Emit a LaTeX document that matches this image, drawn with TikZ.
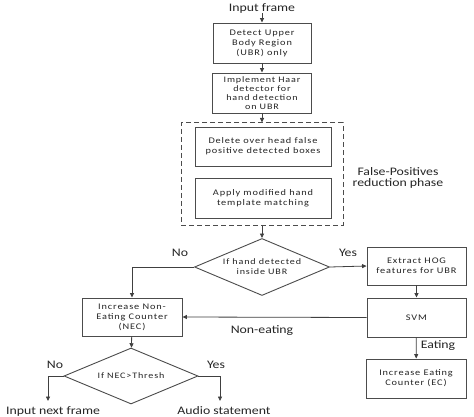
\documentclass[tikz,border=0pt]{standalone}
\usepackage{fontspec}
\setmainfont{Carlito}
\newfontfamily\boxfont{Carlito}[FakeStretch=1.2,LetterSpace=10]
\newfontfamily\labfont{Carlito}[FakeStretch=1.2]
\usetikzlibrary{shapes.geometric,arrows.meta}
\begin{document}
\begin{tikzpicture}[x=1pt,y=-1pt,
  every node/.style={text=black!85},
  procbox/.style={draw=black!70,line width=0.9pt,rectangle,inner sep=0pt,align=center,
    font=\boxfont\fontsize{8.6}{10}\selectfont},
  decbox/.style={draw=black!70,line width=0.9pt,diamond,inner sep=0pt,align=center,
    font=\boxfont\fontsize{8.4}{10}\selectfont},
  lab/.style={inner sep=0pt,align=center,font=\labfont\fontsize{11.5}{11}\selectfont},
  conn/.style={draw=black!75,line width=0.8pt,-{Triangle[length=4.5pt,width=4pt]}},
  phase/.style={draw=black!70,line width=1pt,dash pattern=on 5pt off 3pt,rectangle,inner sep=0pt}
]
\useasboundingbox[fill=white] (0,0) rectangle (474,417);

\node[lab] (inp) at (262,8) {Input frame};
\node[procbox,minimum width=98pt,minimum height=40pt] (b1) at (262,43) {Detect Upper\\Body Region\\(UBR) only};
\node[procbox,minimum width=99pt,minimum height=40pt,font=\boxfont\fontsize{8.4}{9.2}\selectfont] (b2) at (262,93) {Implement Haar\\detector for\\hand detection\\on UBR};
\node[phase,minimum width=162pt,minimum height=102pt] (fp) at (262,174) {};
\node[procbox,minimum width=136pt,minimum height=39pt] (d1) at (263,146.5) {Delete over head false\\positive detected boxes};
\node[procbox,minimum width=136pt,minimum height=40pt] (d2) at (263,198) {Apply modified hand\\template matching};
\node[lab] (fpl) at (398,178) {False-Positives\\reduction phase};

\node[decbox,aspect=2.37,minimum width=135pt,minimum height=57pt] (dia1) at (262,267) {If hand detected\\inside UBR};
\node[procbox,minimum width=99pt,minimum height=38pt] (hog) at (416.5,266) {Extract HOG\\features for UBR};
\node[procbox,minimum width=99pt,minimum height=39pt] (svm) at (416.5,317.5) {SVM};
\node[procbox,minimum width=100pt,minimum height=38pt] (nec) at (132,317) {Increase Non-\\Eating Counter\\(NEC)};
\node[procbox,minimum width=100pt,minimum height=39pt] (ec) at (416,378.5) {Increase Eating\\Counter (EC)};
\node[decbox,aspect=2.39,minimum width=134pt,minimum height=56pt] (dia2) at (131,376) {If NEC>Thresh};

\node[lab] (out1) at (53,411) {Input next frame};
\node[lab] (out2) at (224,411) {Audio statement};
\coordinate (c1) at (48,401);
\coordinate (c2) at (220,401);

\node[lab] (no1) at (180,253) {No};
\node[lab] (yes1) at (348,253) {Yes};
\node[lab] (nonl) at (262,331) {Non-eating};
\node[lab] (eatl) at (438,346) {Eating};
\node[lab] (no2) at (55,365) {No};
\node[lab] (yes2) at (216,365) {Yes};

\draw[conn] (inp) -- (b1);
\draw[conn] (b1) -- (b2);
\draw[conn] (b2) -- (fp);
\draw[conn] (fp) -- (dia1);
\draw[conn] (dia1.west) -| (nec.north);
\draw[conn] (dia1.east) -- (hog.west);
\draw[conn] (hog) -- (svm);
\draw[conn] (svm.west) -- (nec.east);
\draw[conn] (svm) -- (ec);
\draw[conn] (nec) -- (dia2);
\draw[conn] (dia2.west) -| (c1);
\draw[conn] (dia2.east) -| (c2);
\end{tikzpicture}
\end{document}
